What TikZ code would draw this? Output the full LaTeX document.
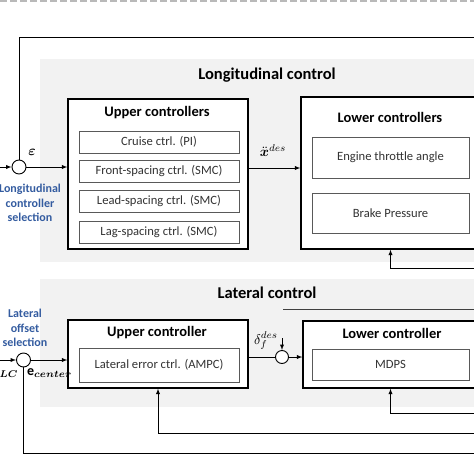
\documentclass[tikz,border=0pt]{standalone}
\usepackage{amsmath,bm}
\usepackage{fontspec}
\setmainfont{Carlito}
\definecolor{bgray}{RGB}{242,242,242}
\definecolor{selblue}{RGB}{52,92,160}
\newcommand{\bigmath}[1]{\scalebox{1.4}{$#1$}}
\begin{document}
\begin{tikzpicture}[x=1pt,y=-1pt,>=latex,
    box/.style={draw,line width=1.3pt,fill=white},
    subbox/.style={draw=black!65,line width=0.7pt,fill=white,text=black!80,
        minimum width=160pt,font=\fontsize{12.6}{14}\selectfont},
    sumcirc/.style={draw,circle,line width=0.9pt,fill=white,minimum size=14pt,inner sep=0pt},
    areatitle/.style={font=\bfseries\fontsize{16.5}{18}\selectfont},
    boxtitle/.style={font=\bfseries\fontsize{14.5}{16}\selectfont},
    sellabel/.style={text=selblue,font=\bfseries\fontsize{12}{14.5}\selectfont,align=center},
    mathlabel/.style={inner sep=1pt},
    conn/.style={line width=0.9pt}]
\clip (0,0) rectangle (474,474);
\useasboundingbox (0,0) rectangle (474,474);

\draw[gray!55,line width=1.6pt,dash pattern=on 7pt off 3pt] (0,1)--(480,1);

% grey areas
\fill[bgray] (40,59) rectangle (480,262);
\fill[bgray] (40,279) rectangle (480,407);
\node[areatitle] (tLong) at (267,75) {Longitudinal control};
\node[areatitle] (tLat) at (267,293) {Lateral control};

% longitudinal control
\node[box,minimum width=180pt,minimum height=150pt] (upL) at (158,174) {};
\node[boxtitle] (tupL) at (157,113) {Upper controllers};
\foreach \n/\y/\t in {1/142/Cruise ctrl. (PI),2/171/Front-spacing ctrl. (SMC),
    3/201/Lead-spacing ctrl. (SMC),4/232/Lag-spacing ctrl. (SMC)}
{
    \node[subbox,minimum height=22pt] (u\n) at (159,\y) {\t};
}
\node[box,minimum width=199pt,minimum height=152pt] (loL) at (400.5,173) {};
\node[boxtitle] (tloL) at (390,117) {Lower controllers};
\node[subbox,minimum width=157pt,minimum height=41pt] (engine) at (390.5,157.5) {Engine throttle angle};
\node[subbox,minimum width=157pt,minimum height=40pt] (brake) at (390.5,213) {Brake Pressure};

\node[sumcirc] (sL) at (19,167) {};
\coordinate (inL) at (0,167);
\coordinate (fbL) at (480,37);
\coordinate (fbB) at (480,268);
\draw[conn,->] (inL)--(sL);
\draw[conn,->] (sL)--(sL -| upL.west);
\draw[conn] (sL) |- (fbL);
\draw[conn,->] ([yshift=6pt]upL.east)--([yshift=6pt]upL.east -| loL.west);
\draw[conn,->] (fbB) -| (brake.south |- loL.south);
\node[mathlabel] (eps) at (32,152) {\bigmath{\boldsymbol{\varepsilon}}};
\node[mathlabel] (xdes) at (273,151) {\bigmath{\ddot{\boldsymbol{x}}^{des}}};
\node[sellabel] (selL) at (30,203) {Longitudinal\\controller\\selection};

% lateral control
\node[box,minimum width=180pt,minimum height=68pt] (upT) at (158,354) {};
\node[boxtitle] (tupT) at (157,333) {Upper controller};
\node[subbox,minimum height=34pt] (ampc) at (159,365) {Lateral error ctrl. (AMPC)};
\node[box,minimum width=197pt,minimum height=67pt] (loT) at (401.5,354.5) {};
\node[boxtitle] (tloT) at (392,333) {Lower controller};
\node[subbox,minimum width=157pt,minimum height=31pt] (mdps) at (390.5,364.5) {MDPS};

\node[sumcirc] (sT) at (23.5,360) {};
\node[sumcirc,minimum size=13pt] (sD) at (282,357) {};
\coordinate (inT) at (0,360);
\coordinate (inD) at (282,338);
\coordinate (lnA) at (283,309);
\coordinate (lnB) at (480,309);
\coordinate (fbD) at (480,413);
\coordinate (fbU) at (480,433);
\coordinate (fbT) at (480,453);
\draw[conn,->] (inT)--(sT);
\draw[conn,->] (sT)--(sT -| upT.west);
\draw[conn] (sT) |- (fbT);
\draw[conn] (upT.east |- sD)--(sD);
\draw[conn,->] (sD)--(sD -| loT.west);
\draw[conn,->] (inD)--(sD);
\draw[conn,black!75] (lnA)--(lnB);
\draw[conn,->] (fbD) -| (mdps.south |- loT.south);
\draw[conn,->] (fbU) -| (upT.south);
\node[mathlabel] (delta) at (266,341) {\bigmath{\delta_f^{des}}};
\node[mathlabel,anchor=east] (eLC) at (19.5,373) {\bigmath{\mathbf{e}_{\boldsymbol{LC}}}};
\node[mathlabel,anchor=west] (ecen) at (26,373) {\bigmath{\mathbf{e}_{\boldsymbol{center}}}};
\node[sellabel] (selT) at (25,328) {Lateral\\offset\\selection};

\end{tikzpicture}
\end{document}
